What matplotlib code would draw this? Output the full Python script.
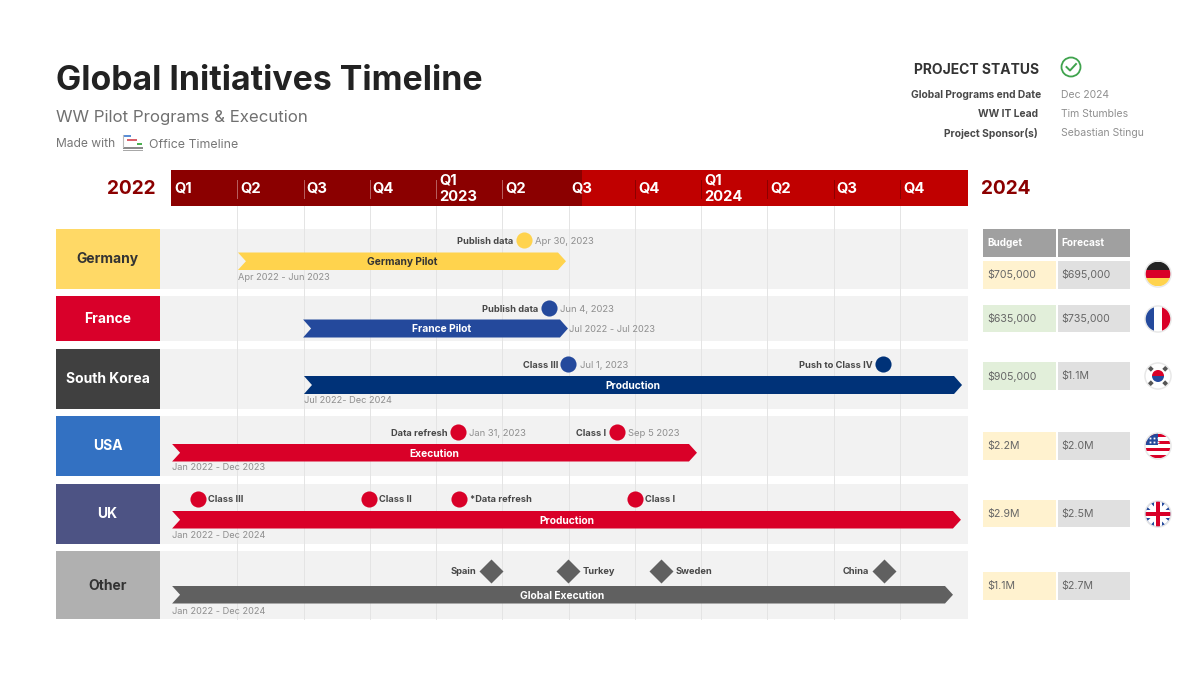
import matplotlib
matplotlib.use("Agg")
import matplotlib.pyplot as plt
from matplotlib.patches import Rectangle, Circle, Polygon, Wedge

plt.rcParams['font.family'] = ['Inter', 'DejaVu Sans']

# ---------- data ----------
COUNTRIES = ["Germany", "France", "South Korea", "USA", "UK", "Other"]
BUDGET = ["$705,000", "$635,000", "$905,000", "$2.2M", "$2.9M", "$1.1M"]
FORECAST = ["$695,000", "$735,000", "$1.1M", "$2.0M", "$2.5M", "$2.7M"]
BAR_NAMES = ["Germany Pilot", "France Pilot", "Production", "Execution", "Production", "Global Execution"]
BAR_START = [3.03, 5.98, 6.02, 0.05, 0.05, 0.05]      # months since Jan 2022
BAR_END = [17.88, 17.97, 35.81, 23.81, 35.76, 35.40]
BAR_DATES = ["Apr 2022 - Jun 2023", "Jul 2022 - Jul 2023", "Jul 2022- Dec 2024",
             "Jan 2022 - Dec 2023", "Jan 2022 - Dec 2024", "Jan 2022 - Dec 2024"]
QUARTERS = ["Q1", "Q2", "Q3", "Q4", "Q1\n2023", "Q2", "Q3", "Q4", "Q1\n2024", "Q2", "Q3", "Q4"]
MS_ROW = [0, 1, 2, 2, 3, 3, 4, 4, 4, 4]
MS_MONTH = [15.96, 17.11, 17.99, 32.23, 12.99, 20.19, 1.22, 8.96, 13.04, 21.0]
MS_NAME = ["Publish data", "Publish data", "Class III", "Push to Class IV", "Data refresh",
           "Class I", "Class III", "Class II", "*Data refresh", "Class I"]
MS_SIDE = ["l", "l", "l", "l", "l", "l", "r", "r", "r", "r"]
MS_DATE = ["Apr 30, 2023", "Jun 4, 2023", "Jul 1, 2023", "", "Jan 31, 2023", "Sep 5 2023", "", "", "", ""]
DIA_MONTH = [14.49, 17.97, 22.18, 32.27]
DIA_NAME = ["Spain", "Turkey", "Sweden", "China"]
DIA_SIDE = ["l", "r", "r", "l"]
STATUS_KEYS = ["Global Programs end Date", "WW IT Lead", "Project Sponsor(s)"]
STATUS_VALS = ["Dec 2024", "Tim Stumbles", "Sebastian Stingu"]

# ---------- layout and style ----------
X0, X1 = 171, 968
PX_PER_MONTH = 22.09
END_MONTH = (X1 - X0) / PX_PER_MONTH
BAND = [(229, 289), (296, 341), (349, 409), (416, 476), (484, 544), (551, 618.5)]
BAR_Y = [(252.5, 270), (319.5, 337.5), (376, 394), (444, 461.5), (511, 528.5), (586, 603.5)]
DATE_Y = [276, 328, 399.5, 467, 535, 610]
MS_Y = [240, 308, 364, 432, 499, 571]
TAB_Y = [261, 304.5, 362, 432, 499.5, 572]
FLAG_Y = [274, 319, 376, 446, 514]
LABEL_COL = ["#FFD966", "#D9002A", "#404040", "#3371C2", "#4D5384", "#B0B0B0"]
LABEL_TXT = ["#333333", "white", "white", "white", "white", "#333333"]
LABEL_TY = [258, 318, 378, 445.5, 513, 584.5]
BAR_COL = ["#FFD34D", "#24499C", "#003278", "#D90028", "#D90028", "#606060"]
BAR_TXT = ["#333333", "white", "white", "white", "white", "white"]
BAR_DX = [0, 6, 0, 0, 0, 0]
MS_COL = ["#FFD34D", "#24499C", "#24499C", "#003278", "#D90028", "#D90028",
          "#D90028", "#D90028", "#D90028", "#D90028"]
BUDGET_COL = ["#FFF2CF", "#E2EFDA", "#E2EFDA", "#FFF2CF", "#FFF2CF", "#FFF2CF"]
DARK, MID = "#484848", "#8F8F8F"

fig = plt.figure(figsize=(12, 6.75), dpi=100, facecolor="white")
pg = fig.add_axes([0, 0, 1, 1])            # page, in pixels
pg.set_xlim(0, 1200); pg.set_ylim(675, 0); pg.axis("off")
tl = fig.add_axes([X0 / 1200, 0, (X1 - X0) / 1200, 1])   # months since Jan 2022
tl.set_xlim(0, END_MONTH); tl.set_ylim(675, 0); tl.axis("off"); tl.patch.set_alpha(0)


def T(x, y, s, size=8, color=DARK, weight="normal", ha="left", ax=pg, **kw):
    return ax.text(x, y + 1, s, fontsize=size, color=color, fontweight=weight, ha=ha, va="center", **kw)


# title block
T(56.5, 79.5, "Global Initiatives Timeline", 24.35, "#222222", "bold")
T(56.5, 116.5, "WW Pilot Programs & Execution", 12.1, "#707070")
T(56.5, 143, "Made with", 8.7, "#777777")
T(149, 143.5, "Office Timeline", 8.9, "#777777")
for lx, ly, lw, lh, lc in [(123, 135, 8, 1.8, "#5B8ED6"), (127, 139, 10, 1.8, "#D9606A"),
                           (137, 143, 5, 1.8, "#4CAF50"), (123, 147, 20, 1.6, "#8A8A8A"),
                           (123, 149.5, 20, 1.6, "#A8A8A8")]:
    pg.add_patch(Rectangle((lx, ly), lw, lh, fc=lc, ec="none"))
pg.plot([123, 123], [135, 147], color="#BBBBBB", lw=0.8)

# project status
T(1039, 68.5, "PROJECT STATUS", 10.0, "#333333", "bold", ha="right")
pg.add_patch(Circle((1071, 67), 9.5, fc="white", ec="#3FA34D", lw=1.3))
pg.plot([1066.5, 1070, 1076], [67, 70.5, 64], color="#3FA34D", lw=1.4)
for k, v, y, xr in zip(STATUS_KEYS, STATUS_VALS, [93.5, 113, 132.5], [1041, 1037.5, 1038]):
    T(xr, y, k, 7.4, DARK, "bold", ha="right")
    T(1061, y, v, 7.5, MID)

# header band
T(156, 188, "2022", 13.7, "#8B0000", "bold", ha="right")
T(981, 188, "2024", 13.7, "#8B0000", "bold")
tl.add_patch(Rectangle((0, 170), END_MONTH, 36, fc="#C00000", ec="none", zorder=2))
tl.add_patch(Rectangle((0, 170), 18.6, 36, fc="#8B0000", ec="none", zorder=2))
for i, q in enumerate(QUARTERS):
    m = 3 * i
    if i:
        tl.plot([m, m], [180, 198], color="#B86060" if m < 18 else "#8B0000", lw=0.7, zorder=3)
    tl.text(m + 3 / PX_PER_MONTH, 188.7, q, fontsize=10.6, color="white", fontweight="bold",
            ha="left", va="center", linespacing=1.15, zorder=4)

# rows
for i, c in enumerate(COUNTRIES):
    y0, y1 = BAND[i]
    pg.add_patch(Rectangle((159.5, y0), X1 - 159.5, y1 - y0, fc="#F2F2F2", ec="none", zorder=1))
    pg.add_patch(Rectangle((56, y0), 103.5, y1 - y0, fc=LABEL_COL[i], ec="none", zorder=2))
    T(107.5, LABEL_TY[i], c, 10.0, LABEL_TXT[i], "bold", ha="center", zorder=3)

for m in range(3, 36, 3):
    tl.plot([m, m], [206, 618.5], color="#E4E4E4", lw=0.7, zorder=1)

# bars
dx = 8 / PX_PER_MONTH
for i in range(6):
    s, e = BAR_START[i], BAR_END[i]
    y0, y1 = BAR_Y[i]
    ym = (y0 + y1) / 2
    tl.add_patch(Polygon([(s, y0), (e - dx, y0), (e, ym), (e - dx, y1), (s, y1), (s + dx, ym)],
                         closed=True, fc=BAR_COL[i], ec="none", zorder=3))
    tl.text((s + e) / 2 + BAR_DX[i] / PX_PER_MONTH, ym + 1, BAR_NAMES[i], fontsize=7.4, color=BAR_TXT[i],
            fontweight="bold", ha="center", va="center", zorder=4)
    xd = e + 1 / PX_PER_MONTH if i == 1 else s
    tl.text(xd, DATE_Y[i] + 1, BAR_DATES[i], fontsize=6.65, color=MID, ha="left", va="center", zorder=4)

# milestones
off = 10.5 / PX_PER_MONTH
for r, m, n, sd, d, col in zip(MS_ROW, MS_MONTH, MS_NAME, MS_SIDE, MS_DATE, MS_COL):
    y = MS_Y[r]
    tl.plot([m], [y], "o", ms=11.6, mfc=col, mec="none", zorder=5, clip_on=False)
    if sd == "l":
        tl.text(m - off, y + 1, n, fontsize=6.7, color=DARK, fontweight="bold", ha="right", va="center", zorder=5)
    else:
        tl.text(m + off, y + 1, n, fontsize=6.7, color=DARK, fontweight="bold", ha="left", va="center", zorder=5)
    if d:
        tl.text(m + off + 1 / PX_PER_MONTH, y + 1, d, fontsize=6.8, color=MID, ha="left", va="center", zorder=5)
off2 = 15 / PX_PER_MONTH
for m, n, sd in zip(DIA_MONTH, DIA_NAME, DIA_SIDE):
    y = MS_Y[5]
    tl.plot([m], [y], "D", ms=11.8, mfc="#606060", mec="none", zorder=5)
    tl.text(m - off2 if sd == "l" else m + off2, y + 1, n, fontsize=6.7, color=DARK, fontweight="bold",
            ha="right" if sd == "l" else "left", va="center", zorder=5)

# table
for x, w, h in [(983, 72.5, "Budget"), (1057.5, 72.5, "Forecast")]:
    pg.add_patch(Rectangle((x, 229), w, 27.5, fc="#A0A0A0", ec="none"))
    T(x + 4, 242.5, h, 7.2, "white", "bold")
for i in range(6):
    y = TAB_Y[i]
    pg.add_patch(Rectangle((983, y), 72.5, 27.8, fc=BUDGET_COL[i], ec="none"))
    pg.add_patch(Rectangle((1057.5, y), 72.5, 27.8, fc="#E0E0E0", ec="none"))
    T(987.5, y + 13, BUDGET[i], 7.6, "#666666")
    T(1061.5, y + 13, FORECAST[i], 7.6, "#666666")


# flags
def flag(cy):
    pg.add_patch(Circle((1158, cy), 13.8, fc="#E8E8E8", ec="none", zorder=2))
    pg.add_patch(Circle((1158, cy), 12.3, fc="white", ec="none", zorder=3))
    return Circle((1158, cy), 12.3, transform=pg.transData)


def band(cy, x, y, w, h, c, clip, angle=0):
    r = Rectangle((x, y), w, h, fc=c, ec="none", zorder=4, angle=angle, rotation_point="center")
    pg.add_patch(r)
    r.set_clip_path(clip)


RED, BLUE = "#D90028", "#24499C"
xl = 1158 - 13
cy = FLAG_Y[0]; c = flag(cy)
for k, col in enumerate(["#222222", RED, "#FFD34D"]):
    band(cy, xl, cy - 12.3 + k * 8.2, 26, 8.4, col, c)
cy = FLAG_Y[1]; c = flag(cy)
band(cy, xl, cy - 13, 9, 26, BLUE, c)
band(cy, xl + 17, cy - 13, 9, 26, RED, c)
cy = FLAG_Y[2]; c = flag(cy)
pg.add_patch(Wedge((1158, cy), 6, 180, 360, fc=RED, ec="none", zorder=4))   # y axis points down
pg.add_patch(Wedge((1158, cy), 6, 0, 180, fc=BLUE, ec="none", zorder=4))
for sx, sy in [(-1, -1), (1, -1), (-1, 1), (1, 1)]:
    band(cy, 1158 + sx * 7.5 - 2.5, cy + sy * 7.5 - 2, 5, 4, "#555555", c, angle=45 * sx * sy)
cy = FLAG_Y[3]; c = flag(cy)
for k in range(0, 7, 2):
    band(cy, xl, cy - 12.3 + k * 3.5, 26, 3.5, RED, c)
band(cy, xl, cy - 13, 13, 12, BLUE, c)
for sx in [-8, -4, 0]:
    for sy in [-8, -4]:
        pg.plot([1158 + sx], [cy + sy], "s", ms=1.3, mfc="white", mec="none", zorder=5)
cy = FLAG_Y[4]; c = flag(cy)
band(cy, xl, cy - 13, 26, 26, BLUE, c)
band(cy, xl - 4, cy - 2.5, 34, 5, "white", c, angle=45)
band(cy, xl - 4, cy - 2.5, 34, 5, "white", c, angle=-45)
band(cy, xl, cy - 4, 26, 8, "white", c)
band(cy, 1158 - 4, cy - 13, 8, 26, "white", c)
band(cy, xl, cy - 2.2, 26, 4.4, RED, c)
band(cy, 1158 - 2.2, cy - 13, 4.4, 26, RED, c)

fig.savefig("out.png", dpi=100)
